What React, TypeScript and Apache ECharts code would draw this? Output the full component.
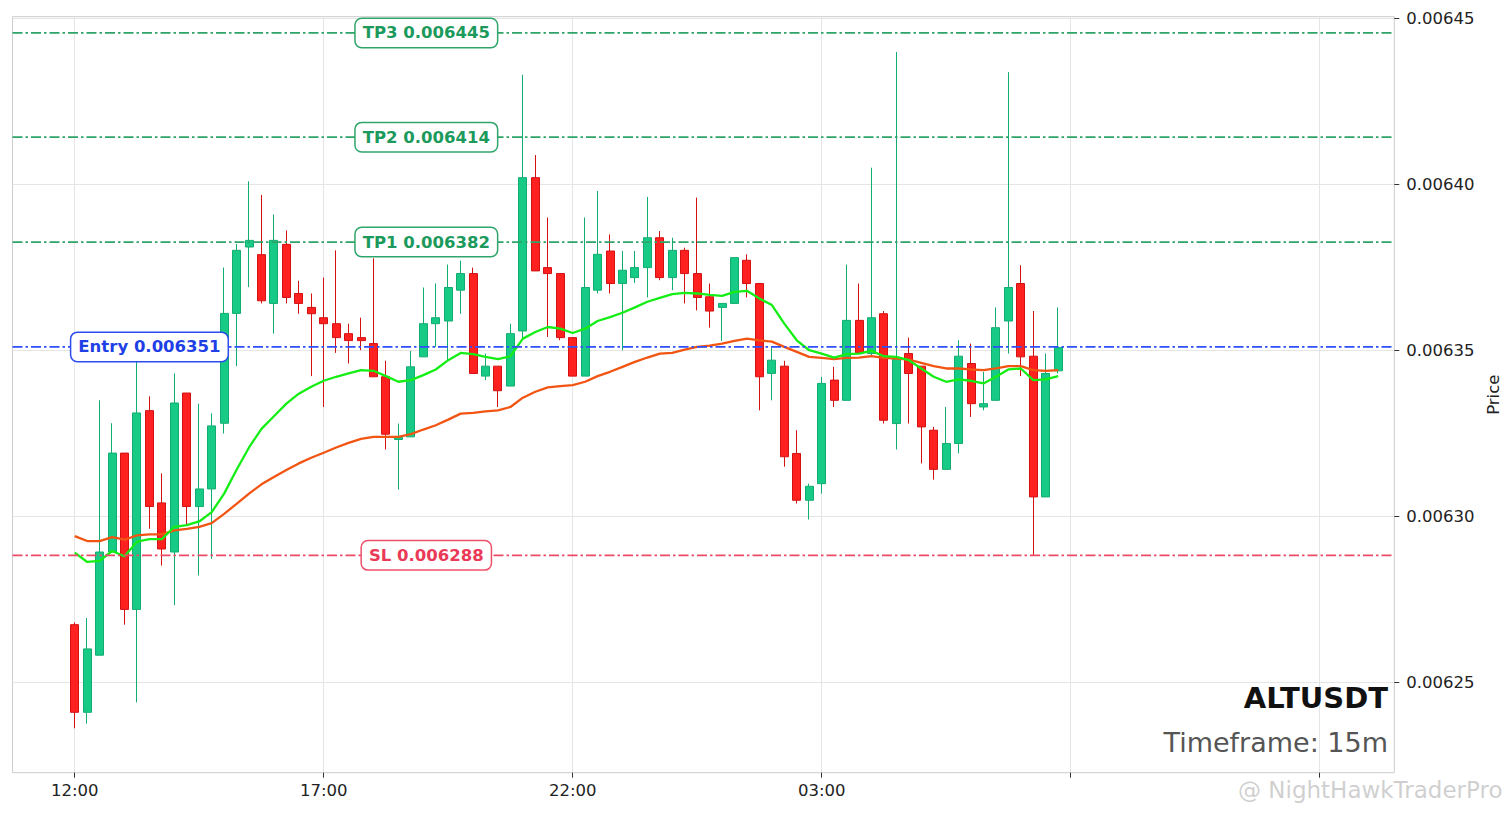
import React, { useEffect, useRef } from "react";
import * as echarts from "echarts";

// ---------- DATA ----------
const LEAD_SLOTS = 5; // empty 15m slots before the first candle
const TOTAL_SLOTS = 112;
const START_HOUR = 10;
const START_MIN = 45;

// x tick positions (slot index) and their labels
const X_TICK_SLOTS = [5, 25, 45, 65, 85, 105];
const X_TICK_LABELS = ["12:00", "17:00", "22:00", "03:00", "", ""];

// y tick labels
const Y_TICKS = [0.00625, 0.0063, 0.00635, 0.0064, 0.00645];
const Y_MIN = 0.0062227;
const Y_MAX = 0.0064505;

// candles: [open, close, low, high]
const CANDLES: number[][] = [
  [0.0062673, 0.0062409, 0.0062361, 0.006268],
  [0.0062409, 0.00626, 0.0062375, 0.0062693],
  [0.0062581, 0.0062892, 0.0062581, 0.0063349],
  [0.0062892, 0.006319, 0.0062892, 0.006328],
  [0.006319, 0.0062719, 0.0062673, 0.006319],
  [0.0062719, 0.0063311, 0.0062439, 0.00635],
  [0.0063318, 0.0063029, 0.0062962, 0.0063361],
  [0.006304, 0.0062901, 0.0062851, 0.0063129],
  [0.0062892, 0.0063341, 0.0062732, 0.006343],
  [0.0063371, 0.0063029, 0.0062973, 0.0063371],
  [0.0063029, 0.0063082, 0.0062821, 0.0063339],
  [0.0063082, 0.0063272, 0.0062871, 0.006331],
  [0.006328, 0.0063611, 0.0063249, 0.0063749],
  [0.0063611, 0.0063801, 0.0063452, 0.006382],
  [0.0063811, 0.0063831, 0.006369, 0.0064009],
  [0.0063788, 0.0063649, 0.0063641, 0.0063968],
  [0.0063641, 0.0063831, 0.006355, 0.0063909],
  [0.0063819, 0.0063659, 0.0063641, 0.0063861],
  [0.0063671, 0.0063641, 0.006361, 0.0063709],
  [0.0063629, 0.006361, 0.0063422, 0.0063671],
  [0.0063598, 0.006358, 0.0063329, 0.0063719],
  [0.006358, 0.0063538, 0.0063492, 0.0063801],
  [0.006355, 0.0063529, 0.006346, 0.006358],
  [0.0063538, 0.0063529, 0.00635, 0.0063598],
  [0.006352, 0.006342, 0.006342, 0.0063777],
  [0.006342, 0.0063247, 0.0063201, 0.0063468],
  [0.0063231, 0.0063237, 0.006308, 0.0063279],
  [0.0063239, 0.006345, 0.0063239, 0.0063498],
  [0.006348, 0.006358, 0.006348, 0.0063689],
  [0.006358, 0.0063598, 0.006351, 0.0063701],
  [0.0063588, 0.0063689, 0.006347, 0.0063758],
  [0.0063681, 0.0063731, 0.006361, 0.006377],
  [0.0063731, 0.006343, 0.006343, 0.0063749],
  [0.0063422, 0.0063452, 0.006341, 0.006349],
  [0.0063452, 0.0063378, 0.0063329, 0.0063452],
  [0.0063392, 0.006355, 0.0063392, 0.006358],
  [0.0063558, 0.006402, 0.0063535, 0.006433],
  [0.006402, 0.0063739, 0.0063739, 0.0064088],
  [0.0063749, 0.0063731, 0.006354, 0.00639],
  [0.0063731, 0.0063538, 0.006353, 0.0063731],
  [0.0063538, 0.0063422, 0.0063422, 0.0063538],
  [0.0063422, 0.0063689, 0.0063422, 0.00639],
  [0.0063681, 0.0063789, 0.0063671, 0.006398],
  [0.0063799, 0.0063701, 0.0063671, 0.0063849],
  [0.0063701, 0.0063741, 0.00635, 0.0063799],
  [0.0063719, 0.0063749, 0.0063703, 0.0063799],
  [0.0063749, 0.0063839, 0.0063659, 0.0063962],
  [0.0063839, 0.0063719, 0.0063711, 0.0063859],
  [0.0063719, 0.0063801, 0.0063681, 0.0063839],
  [0.0063801, 0.0063731, 0.0063641, 0.0063809],
  [0.0063731, 0.0063659, 0.006362, 0.006396],
  [0.0063661, 0.0063618, 0.0063568, 0.0063701],
  [0.0063629, 0.0063641, 0.0063528, 0.0063641],
  [0.0063641, 0.0063779, 0.0063641, 0.0063779],
  [0.0063771, 0.0063701, 0.0063659, 0.0063789],
  [0.0063701, 0.006342, 0.0063319, 0.0063701],
  [0.006343, 0.006347, 0.0063349, 0.0063508],
  [0.0063452, 0.0063179, 0.0063149, 0.0063468],
  [0.0063189, 0.0063048, 0.0063038, 0.0063259],
  [0.0063048, 0.006309, 0.006299, 0.0063098],
  [0.0063098, 0.00634, 0.0063068, 0.006342],
  [0.006341, 0.0063349, 0.0063329, 0.006345],
  [0.0063349, 0.006359, 0.0063349, 0.0063758],
  [0.006359, 0.0063492, 0.0063492, 0.0063701],
  [0.006349, 0.0063598, 0.006348, 0.006405],
  [0.006361, 0.0063289, 0.0063279, 0.0063618],
  [0.0063279, 0.0063475, 0.0063201, 0.0064399],
  [0.006349, 0.006343, 0.0063279, 0.0063538],
  [0.0063452, 0.0063269, 0.0063159, 0.0063452],
  [0.0063259, 0.0063141, 0.006311, 0.0063269],
  [0.0063141, 0.0063219, 0.0063141, 0.0063329],
  [0.0063219, 0.0063482, 0.0063189, 0.006353],
  [0.006346, 0.0063339, 0.0063299, 0.006352],
  [0.0063329, 0.0063339, 0.0063319, 0.0063435],
  [0.0063349, 0.0063568, 0.0063349, 0.0063629],
  [0.0063588, 0.0063689, 0.006349, 0.0064338],
  [0.0063701, 0.006348, 0.0063422, 0.0063756],
  [0.0063482, 0.0063058, 0.006288, 0.0063618],
  [0.0063058, 0.006343, 0.0063058, 0.006349],
  [0.0063438, 0.0063508, 0.006343, 0.0063629],
];

const EMA_FAST = [
  0.006289, 0.0062862, 0.0062865, 0.0062895, 0.0062879, 0.0062923, 0.0062931, 0.0062931,
  0.0062968, 0.0062973, 0.0062984, 0.0063012, 0.0063068, 0.006314, 0.0063207, 0.0063263,
  0.0063301, 0.0063339, 0.0063369, 0.006339, 0.0063408, 0.006342, 0.006343, 0.006344,
  0.0063438, 0.0063422, 0.0063405, 0.006341, 0.0063425, 0.0063442, 0.006347, 0.0063492,
  0.0063488, 0.006348, 0.0063473, 0.0063482, 0.0063535, 0.0063555, 0.006357, 0.0063565,
  0.0063552, 0.0063565, 0.0063588, 0.00636, 0.0063613, 0.0063629, 0.0063646, 0.0063658,
  0.0063669, 0.0063673, 0.0063671, 0.0063667, 0.0063664, 0.0063676, 0.0063679, 0.0063656,
  0.0063636, 0.006358, 0.006353, 0.00635, 0.006349, 0.0063478, 0.0063488, 0.006349,
  0.0063498, 0.0063482, 0.006348, 0.006347, 0.0063445, 0.006342, 0.0063405, 0.0063412,
  0.0063408, 0.00634, 0.006342, 0.0063442, 0.0063445, 0.006341, 0.0063412, 0.0063422,
];

const EMA_SLOW = [
  0.006294, 0.0062925, 0.0062925, 0.0062937, 0.0062929, 0.0062942, 0.0062945, 0.0062945,
  0.0062957, 0.0062962, 0.0062968, 0.0062979, 0.0063007, 0.0063037, 0.0063068, 0.0063096,
  0.0063118, 0.0063139, 0.0063159, 0.0063176, 0.0063191, 0.0063207, 0.0063221, 0.0063233,
  0.0063239, 0.0063239, 0.0063239, 0.0063247, 0.0063261, 0.0063274, 0.0063291, 0.0063309,
  0.0063311, 0.0063316, 0.0063319, 0.0063329, 0.0063357, 0.0063375, 0.0063388, 0.0063392,
  0.0063395, 0.0063405, 0.0063422, 0.0063435, 0.006345, 0.0063465, 0.0063478, 0.006349,
  0.0063492, 0.0063502, 0.006351, 0.0063514, 0.006352, 0.0063528, 0.0063535, 0.006353,
  0.0063526, 0.006351, 0.0063495, 0.006348, 0.0063477, 0.0063473, 0.0063477, 0.0063478,
  0.0063482, 0.0063477, 0.0063475, 0.0063472, 0.0063462, 0.0063452, 0.0063445, 0.0063445,
  0.0063442, 0.006344, 0.0063445, 0.0063452, 0.0063452, 0.006344, 0.0063438, 0.006344,
];

// trade levels
const LEVEL_NAMES = ["TP3 0.006445", "TP2 0.006414", "TP1 0.006382", "Entry 0.006351", "SL 0.006288"];
const LEVEL_VALUES = [0.0064456, 0.0064142, 0.0063826, 0.006351, 0.0062882];
const LEVEL_LABEL_SLOT = [33, 33, 33, 11, 33];
const LEVEL_LINE_COLORS = ["#2ea468", "#2ea468", "#2ea468", "#2f4ffa", "#ec4a66"];
const LEVEL_TEXT_COLORS = ["#1b9a5c", "#1b9a5c", "#1b9a5c", "#1f3fe6", "#ea3a58"];
const LEVEL_BORDER_COLORS = ["#30a56b", "#30a56b", "#30a56b", "#2d4cf0", "#ee506b"];

const SYMBOL = "ALTUSDT";
const TIMEFRAME = "Timeframe: 15m";
const WATERMARK = "@ NightHawkTraderPro";

const FONT = "DejaVu Sans";

function buildCategories(): string[] {
  const out: string[] = [];
  for (let i = 0; i < TOTAL_SLOTS; i++) {
    const m = (START_HOUR * 60 + START_MIN + i * 15) % (24 * 60);
    const hh = String(Math.floor(m / 60)).padStart(2, "0");
    const mm = String(m % 60).padStart(2, "0");
    out.push(hh + ":" + mm);
  }
  return out;
}

export default function App() {
  const ref = useRef<HTMLDivElement>(null);

  useEffect(() => {
    if (!ref.current) return;
    const chart = echarts.init(ref.current, null, { renderer: "svg" });
    const categories = buildCategories();
    const pad = Array(LEAD_SLOTS).fill("-");
    const candleData = [...pad, ...CANDLES];
    const fastData = [...pad, ...EMA_FAST];
    const slowData = [...pad, ...EMA_SLOW];
    const isTick = (i: number) => X_TICK_SLOTS.indexOf(i) >= 0;

    const dash = [10, 3, 2.5, 3];

    const levelSeries = LEVEL_VALUES.map((v, i) => ({
      type: "line",
      data: categories.map(() => v),
      showSymbol: false,
      symbol: "none",
      silent: true,
      lineStyle: { color: LEVEL_LINE_COLORS[i], type: dash, width: 1.8, opacity: 1 },
      z: 5,
    }));

    chart.setOption({
      animation: false,
      backgroundColor: "#ffffff",
      textStyle: { fontFamily: FONT },
      grid: {
        left: 12.5,
        right: 117.7,
        top: 16.7,
        bottom: 40.3,
        show: true,
        borderColor: "#cccccc",
        borderWidth: 1,
        backgroundColor: "transparent",
        containLabel: false,
        outerBoundsMode: "none",
      },
      xAxis: {
        type: "category",
        data: categories,
        boundaryGap: false,
        axisLine: { show: false },
        axisTick: {
          show: true,
          interval: (i: number) => isTick(i),
          length: 5,
          lineStyle: { color: "#333333", width: 1 },
        },
        axisLabel: {
          interval: (i: number) => isTick(i),
          formatter: (_v: string, i: number) => {
            const k = X_TICK_SLOTS.indexOf(i);
            return k >= 0 ? X_TICK_LABELS[k] : "";
          },
          color: "#222222",
          fontFamily: FONT,
          fontSize: 16.5,
          margin: 9,
        },
        splitLine: {
          show: true,
          interval: (i: number) => isTick(i),
          lineStyle: { color: "#e5e5e5", width: 1 },
        },
      },
      yAxis: {
        type: "value",
        position: "right",
        min: Y_MIN,
        max: Y_MAX,
        scale: true,
        name: "Price",
        nameLocation: "middle",
        nameRotate: 90,
        nameGap: 90,
        nameTextStyle: { color: "#222222", fontFamily: FONT, fontSize: 16.5 },
        axisLine: { show: false },
        axisTick: {
          show: true,
          length: 5,
          customValues: Y_TICKS,
          lineStyle: { color: "#333333", width: 1 },
        },
        axisLabel: {
          customValues: Y_TICKS,
          formatter: (v: number) => v.toFixed(5),
          color: "#222222",
          fontFamily: FONT,
          fontSize: 16.5,
          margin: 12,
        },
        splitLine: { show: true, lineStyle: { color: "#e5e5e5", width: 1 } },
      },
      series: [
        {
          type: "candlestick",
          data: candleData,
          barWidth: 8.5,
          itemStyle: {
            color: "#17cb86",
            color0: "#ff2020",
            borderColor: "#11ad70",
            borderColor0: "#d41010",
            borderWidth: 1,
          },
          z: 2,
        },
        {
          type: "line",
          data: slowData,
          showSymbol: false,
          symbol: "none",
          lineStyle: { color: "#f25412", width: 2.3 },
          z: 3,
        },
        {
          type: "line",
          data: fastData,
          showSymbol: false,
          symbol: "none",
          lineStyle: { color: "#14ee14", width: 2.3 },
          z: 4,
        },
        ...levelSeries,
        {
          type: "scatter",
          z: 10,
          symbolSize: 1,
          itemStyle: { color: "transparent", opacity: 1 },
          data: LEVEL_VALUES.map((v, i) => ({
            value: [LEVEL_LABEL_SLOT[i], v],
            name: LEVEL_NAMES[i],
            label: {
              show: true,
              position: "inside",
              offset: [i === 3 ? 0 : 3, 0],
              formatter: LEVEL_NAMES[i],
              color: LEVEL_TEXT_COLORS[i],
              fontFamily: FONT,
              fontWeight: "bold",
              fontSize: 16.5,
              lineHeight: 20,
              backgroundColor: "#ffffff",
              borderColor: LEVEL_BORDER_COLORS[i],
              borderWidth: 1.5,
              borderRadius: 6,
              padding: [4, 7, 4, 7],
              opacity: 1,
            },
          })),
        },
      ],
      graphic: [
        {
          type: "text",
          x: 1388,
          y: 698,
          style: {
            text: SYMBOL,
            textAlign: "right",
            textVerticalAlign: "middle",
            fontFamily: FONT,
            fontWeight: "bold",
            fontSize: 29,
            fill: "#111111",
          },
          z: 20,
        },
        {
          type: "text",
          x: 1388,
          y: 742,
          style: {
            text: TIMEFRAME,
            textAlign: "right",
            textVerticalAlign: "middle",
            fontFamily: FONT,
            fontSize: 27,
            fill: "#555555",
          },
          z: 20,
        },
        {
          type: "text",
          x: 1238,
          y: 790,
          style: {
            text: WATERMARK,
            textAlign: "left",
            textVerticalAlign: "middle",
            fontFamily: FONT,
            fontSize: 23,
            fill: "rgba(160,160,160,0.5)",
          },
          z: 20,
        },
      ],
    });

    return () => {
      chart.dispose();
    };
  }, []);

  return (
    <div
      ref={ref}
      style={{ position: "fixed", left: 0, top: 0, width: 1512, height: 813, background: "#fff" }}
    />
  );
}
